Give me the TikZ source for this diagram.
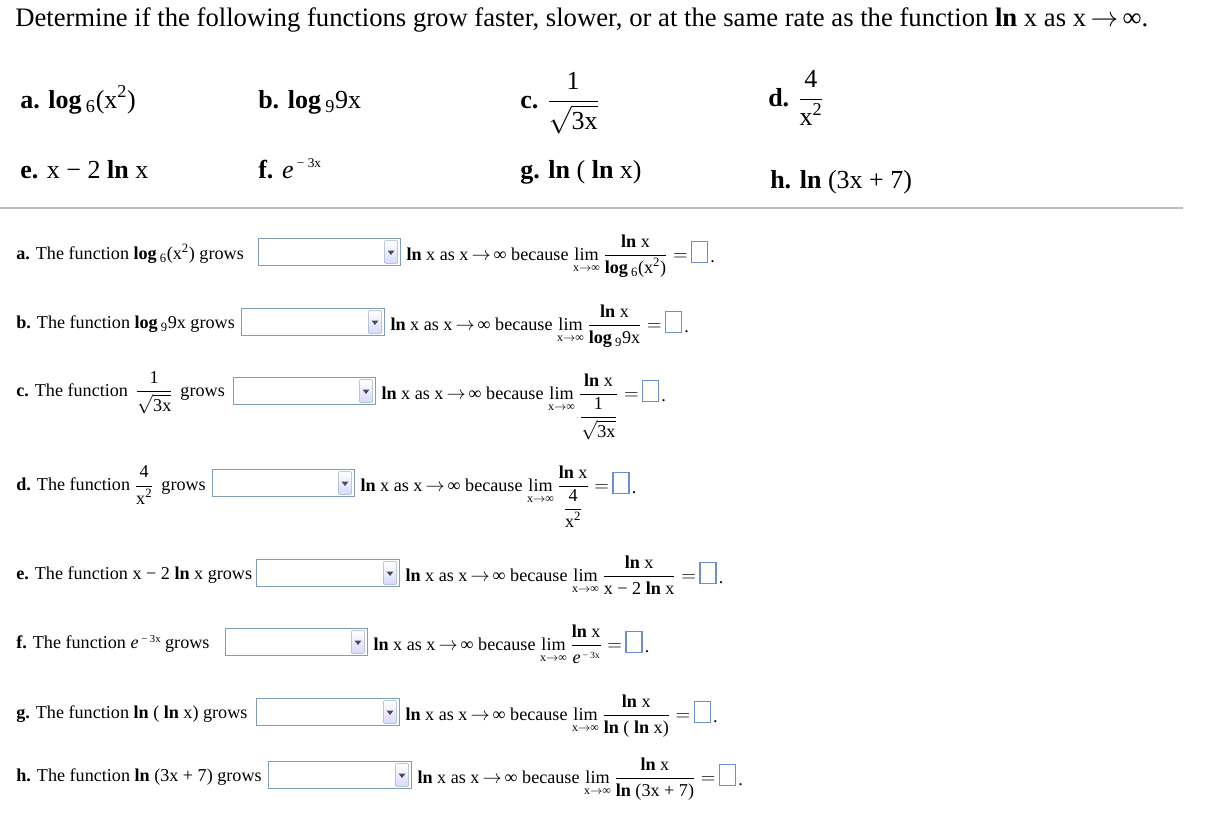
\documentclass[tikz,border=0pt]{standalone}
\usepackage{amsmath}
\usepackage{fontspec}
\setmainfont{Liberation Serif}
\usetikzlibrary{calc}
\definecolor{bb}{HTML}{7F9DB9}
\definecolor{sq}{HTML}{6A8FD0}
\tikzset{
 txt/.style={inner sep=0pt,font=\fontsize{13.6}{15}\selectfont},
 big/.style={inner sep=0pt,font=\fontsize{19.5}{22}\selectfont},
 ddbox/.style={draw=bb,fill=white,inner sep=0pt,minimum height=20pt},
 ddbtn/.style={draw=bb!80,top color=white,bottom color=blue!15,inner sep=0pt,minimum width=10pt,minimum height=17pt,rounded corners=1pt},
 ans/.style={draw=sq,line width=0.9pt,inner sep=0pt,minimum width=12pt,minimum height=16pt}
}
\newcommand\sub[1]{\,\textsubscript{#1}}
\newcommand\arr{\,$\rightarrow$\,}
\newcommand\lsub{\text{\fontsize{9}{10}\selectfont x$\rightarrow$∞}}
\newcommand\qrow[6]{%
 \node[txt,anchor=west] (#1p) at (16,#2+2) {#3};
 \node[ddbox,minimum width={(#5-#4)*0.75pt}] (#1d) at ({(#4+#5)/2},#2) {};
 \node[ddbtn] (#1b) at (#5-9,#2) {};
 \fill[black!70] ($(#1b)+(-3.5,-1.5)$) -- ($(#1b)+(3.5,-1.5)$) -- ($(#1b)+(0,3)$) -- cycle;
 \node[txt,anchor=west] (#1t) at ($(#1d.east)+(6,2)$) {\textbf{ln} x as x\arr∞ because};
 \node[txt,anchor=base west] (#1l) at ($(#1t.base east)+(4,0)$) {$\mathop{\text{lim}}\limits_{\lsub}\dfrac{\text{\textbf{ln} x}}{\text{#6}}=$};
 \node[ans,anchor=west] (#1a) at ($(#1l.east|-#1d)+(3,0)$) {};
 \node[txt,anchor=south west] (#1e) at ($(#1a.south east)+(2,0)$) {.};
}
\begin{document}
\begin{tikzpicture}[x=0.75pt,y=-0.75pt]
\useasboundingbox (0,0) rectangle (1209,828);
\fill[white] (0,0) rectangle (1209,828);
\node[inner sep=0pt,anchor=west,font=\fontsize{20}{22}\selectfont] (title) at (15,20) {Determine if the following functions grow faster, slower, or at the same rate as the function \textbf{ln} x as x\arr∞.};
\node[big,anchor=base west] (ia) at (20,108) {\textbf{a. log}\sub{6}(x\textsuperscript{2})};
\node[big,anchor=base west] (ib) at (258,108) {\textbf{b. log}\sub{9}9x};
\node[big,anchor=base west] (ic) at (520,108) {\textbf{c.} $\dfrac{\text{\fontsize{19.5}{22}\selectfont 1}}{\sqrt{\text{\fontsize{19.5}{22}\selectfont 3x}}}$};
\node[big,anchor=base west] (id) at (768,106) {\textbf{d.} $\dfrac{\text{\fontsize{19.5}{22}\selectfont 4}}{\text{\fontsize{19.5}{22}\selectfont x\textsuperscript{2}}}$};
\node[big,anchor=base west] (ie) at (20,178) {\textbf{e.} x − 2 \textbf{ln} x};
\node[big,anchor=base west] (if) at (258,178) {\textbf{f.} \textit{e}\raisebox{8pt}{\normalsize\ − 3x}};
\node[big,anchor=base west] (ig) at (520,178) {\textbf{g. ln} ( \textbf{ln} x)};
\node[big,anchor=base west] (ih) at (770,188) {\textbf{h. ln} (3x + 7)};
\draw[black!25,line width=0.8pt] (0,208) -- (1183,208);
\qrow{a}{252}{\textbf{a.} The function \textbf{log}\sub{6}(x\textsuperscript{2}) grows}{258}{400}{\textbf{log}\sub{6}(x\textsuperscript{2})}
\qrow{b}{322}{\textbf{b.} The function \textbf{log}\sub{9}9x grows}{241}{384}{\textbf{log}\sub{9}9x}
\qrow{c}{391}{\textbf{c.} The function\, $\dfrac{\text{1}}{\sqrt{\text{3x}}}$\, grows}{233}{375}{$\dfrac{\text{1}}{\sqrt{\text{3x}}}$}
\qrow{d}{483}{\textbf{d.} The function $\dfrac{\text{4}}{\text{x\textsuperscript{2}}}$\, grows}{212}{354}{$\dfrac{\text{4}}{\text{x\textsuperscript{2}}}$}
\qrow{e}{573}{\textbf{e.} The function x − 2 \textbf{ln} x grows}{256}{399}{x − 2 \textbf{ln} x}
\qrow{f}{642}{\textbf{f.} The function \textit{e}\raisebox{5pt}{\footnotesize\ − 3x} grows}{225}{367}{\textit{e}\raisebox{4pt}{\scriptsize\ − 3x}}
\qrow{g}{712}{\textbf{g.} The function \textbf{ln} ( \textbf{ln} x) grows}{256}{399}{\textbf{ln} ( \textbf{ln} x)}
\qrow{h}{775}{\textbf{h.} The function \textbf{ln} (3x + 7) grows}{268}{411}{\textbf{ln} (3x + 7)}
\end{tikzpicture}
\end{document}
